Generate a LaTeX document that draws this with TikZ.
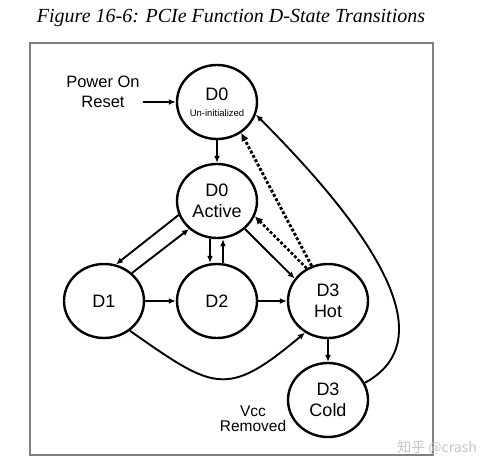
\documentclass[tikz,border=0pt]{standalone}
\usepackage{fontspec}
\setmainfont{Liberation Serif}
\setsansfont{Liberation Sans}
\newfontfamily\cjk{Noto Sans CJK SC}
\usetikzlibrary{shapes.geometric,arrows.meta}

\tikzset{
  state/.style={ellipse, draw, black, line width=2.4pt, minimum width=80pt, minimum height=74pt,
    inner sep=0pt, align=center, font=\sffamily\fontsize{18}{21}\selectfont},
  arr/.style={line width=1.9pt, -{Latex[length=7pt,width=6pt]}},
  dots/.style={line width=2.9pt, dotted, -{Latex[length=8pt,width=8pt]}}
}

\begin{document}
\begin{tikzpicture}[x=1pt,y=1pt]

      \useasboundingbox (0,0) rectangle (494,472);
      \fill[white] (0,0) rectangle (494,472);

      \node[font=\itshape\fontsize{20}{24}\selectfont] (title) at (231,454) {Figure 16-6: PCIe Function D-State Transitions};
      \draw[gray, line width=1.2pt] (30,17) rectangle (433,429);

      \node[state] (d0u) at (217,370) {\raisebox{-3pt}{D0}\\[-5pt]{\fontsize{9.5}{11}\selectfont\raisebox{-3pt}{Un-initialized}}};
      \node[state] (d0a) at (217,271) {D0\\Active};
      \node[state] (d1) at (104,171) {D1};
      \node[state] (d2) at (217,171) {D2};
      \node[state] (d3h) at (328,171) {D3\\Hot};
      \node[state] (d3c) at (328,72) {D3\\Cold};

      \node[align=center, font=\sffamily\fontsize{16.5}{20}\selectfont] (por) at (103,380) {Power On\\Reset};
      \node[align=center, font=\sffamily\fontsize{15.5}{15}\selectfont] (vcc) at (253,53) {Vcc\\Removed};
      \node[gray!45, font=\cjk\fontsize{14}{16}\selectfont] (mark) at (437,24) {知乎 @crash};

      \draw[arr] (por.east |- d0u.west) -- (d0u.west);
      \draw[arr] (d0u.south) -- (d0a.north);

      \draw[arr] (d0a.-160) -- (d1.72);
      \draw[arr] (d1.45) -- (d0a.-135);
      \draw[arr] ([xshift=-7pt]d0a.south) -- ([xshift=-7pt]d2.north);
      \draw[arr] ([xshift=6pt]d2.north) -- ([xshift=6pt]d0a.south);
      \draw[arr] (d0a.-45) -- (d3h.146);

      \draw[arr] (d1.east) -- (d2.west);
      \draw[arr] (d2.east) -- (d3h.west);
      \draw[arr] (d1.-49) to[out=-35, in=-140, looseness=1.5] (d3h.-126);
      \draw[arr] (d3h.south) -- (d3c.north);

      \draw[dots] (d3h.115) -- (d0u.-52);
      \draw[dots, line width=2.5pt] (d3h.123) -- (d0a.-22);
      \draw[arr] (d3c.25) .. controls (440,130) and (385,228) .. (d0u.-18);

    \end{tikzpicture}
\end{document}
